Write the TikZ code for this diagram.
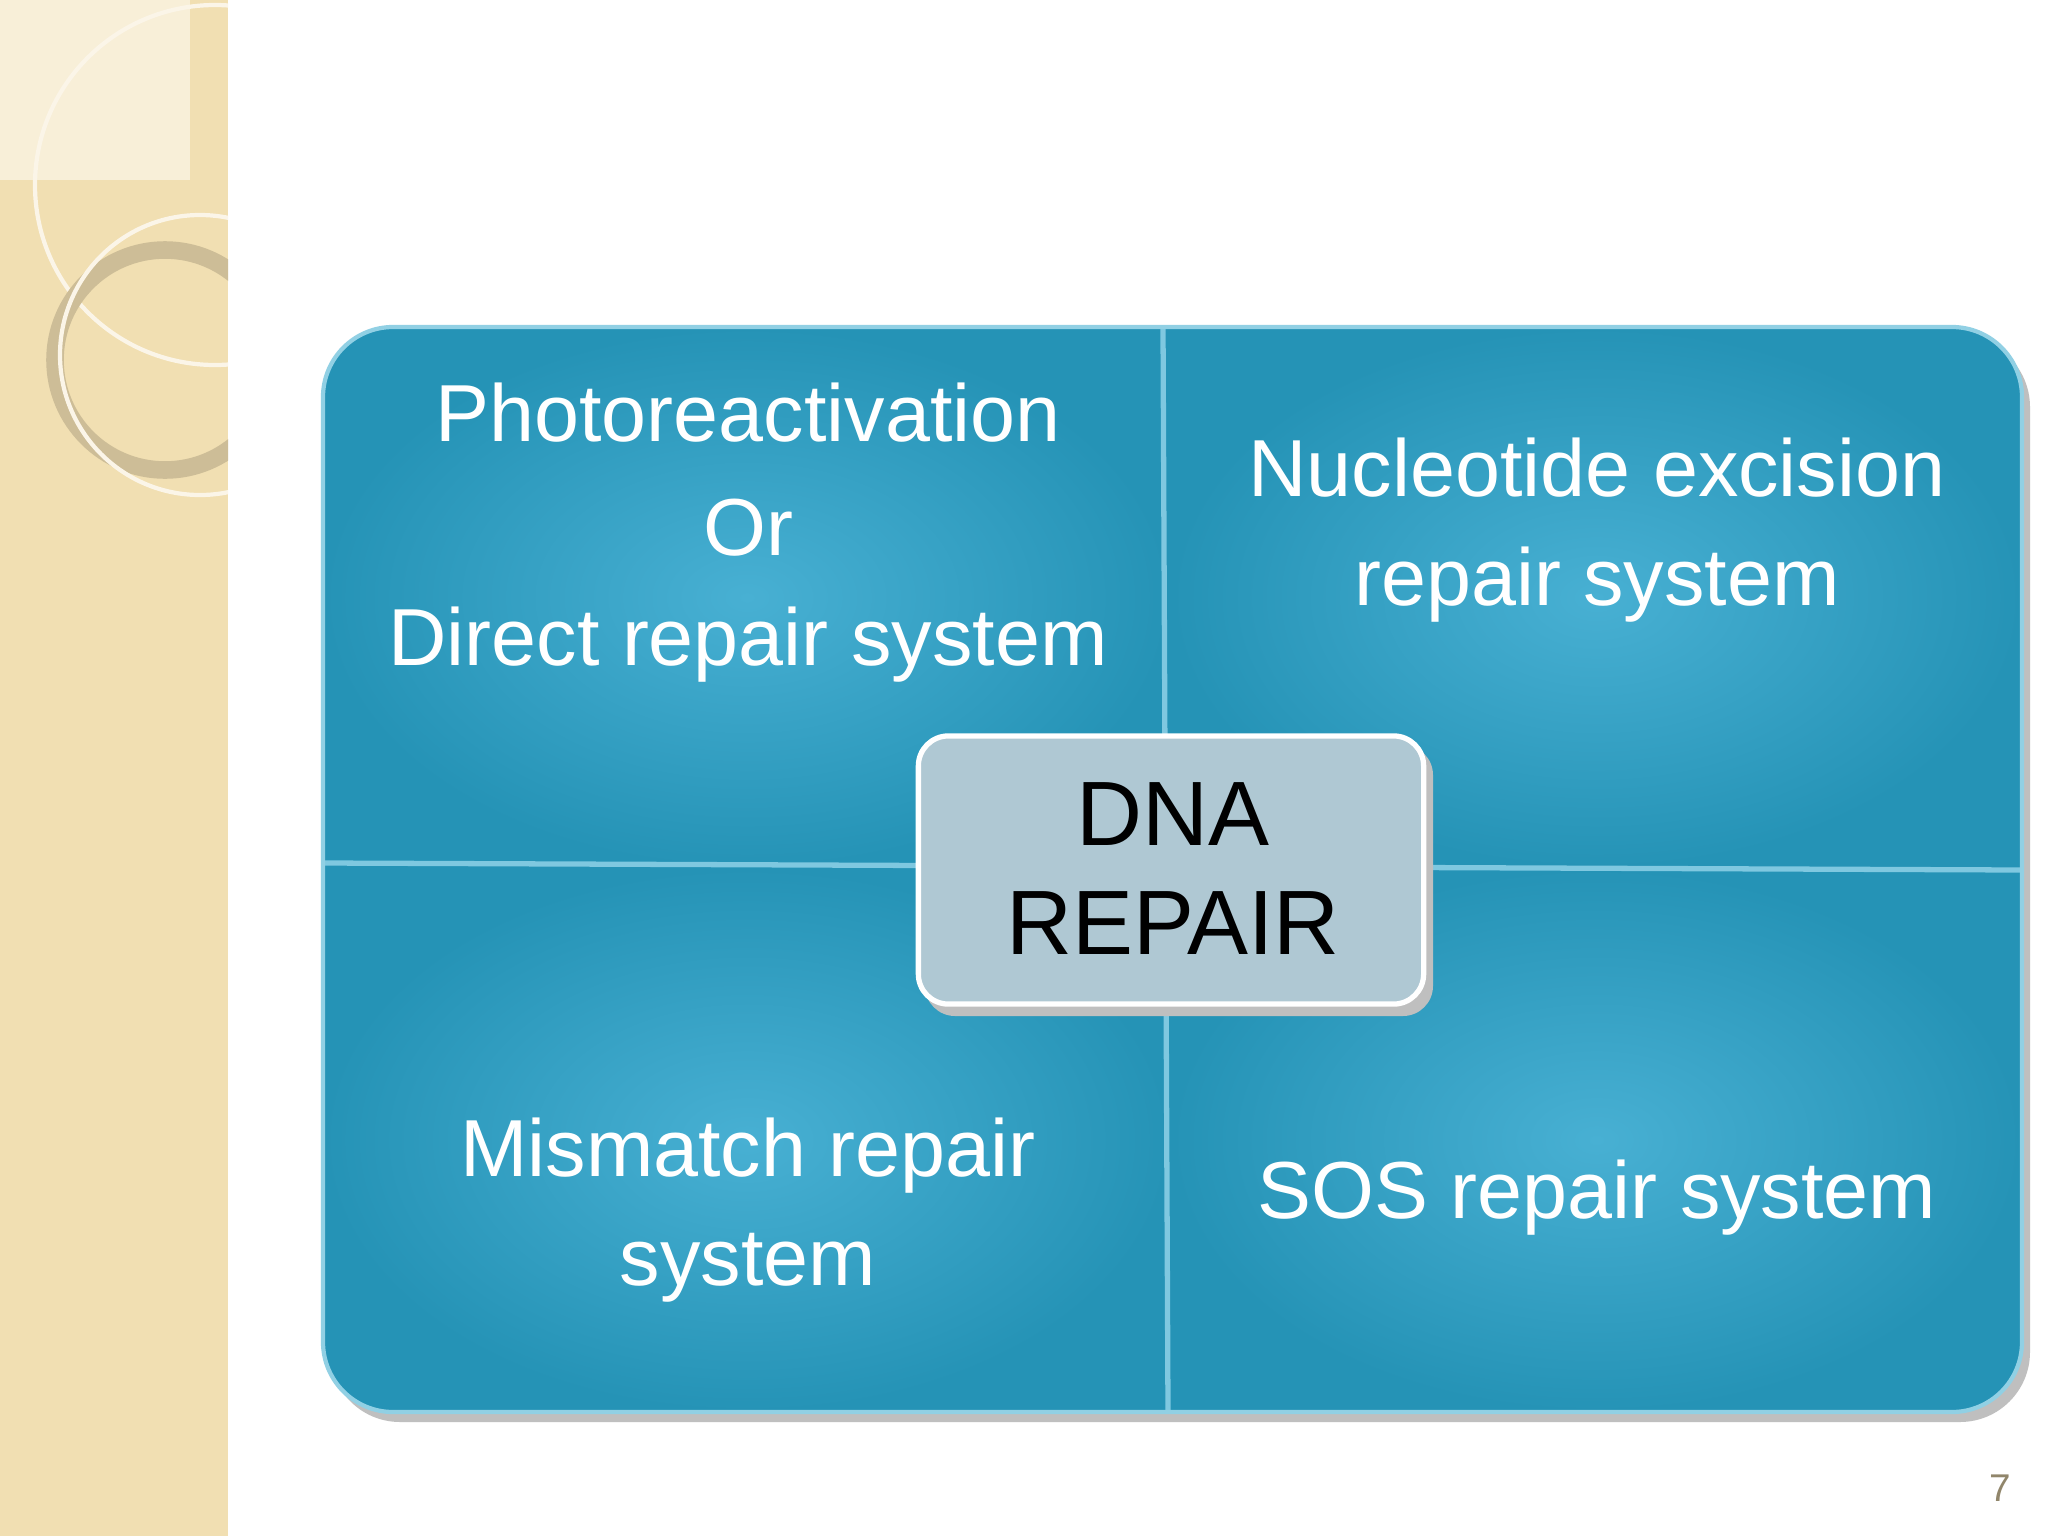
\documentclass[tikz,border=0pt]{standalone}
\usepackage{fontspec}
\setmainfont{Liberation Sans}
\begin{document}
\begin{tikzpicture}[x=0.01cm,y=-0.01cm,
  lbl/.style={text=white,font=\fontsize{23}{28}\selectfont,align=center}]
\definecolor{quadout}{HTML}{2593B6}
\definecolor{quadin}{HTML}{48B0D3}
\definecolor{beige}{HTML}{F1DFB2}
\definecolor{ctr}{HTML}{AFC8D3}
\useasboundingbox (0,0) rectangle (2048,1536);
\fill[white] (0,0) rectangle (2048,1536);
% beige strip
\fill[beige] (0,0) rectangle (228,1536);
\begin{scope}
\clip (0,0) rectangle (228,1536);
\fill[beige!50!white] (0,0) rectangle (190,180);
\draw[white!70!beige,line width=1.2pt] (215,185) circle (180);
\draw[beige!85!black,line width=5pt] (165,360) circle (110);
\draw[white!70!beige,line width=1.2pt] (200,355) circle (140);
\end{scope}
% main box
\fill[black!25,rounded corners=0.7cm] (330,337) rectangle (2030,1422);
\begin{scope}
\clip[rounded corners=0.7cm] (323,327) rectangle (2022,1412);
\shade[inner color=quadin,outer color=quadout] (323,327) rectangle (1171,868);
\shade[inner color=quadin,outer color=quadout] (1171,327) rectangle (2022,868);
\shade[inner color=quadin,outer color=quadout] (323,868) rectangle (1171,1412);
\shade[inner color=quadin,outer color=quadout] (1171,868) rectangle (2022,1412);
\draw[quadin!70!white,line width=1.5pt] (1163,327) -- (1168,1412);
\draw[quadin!70!white,line width=1.5pt] (323,863) -- (2022,870);
\end{scope}
\draw[quadin!60!white,line width=1.2pt,rounded corners=0.7cm] (323,327) rectangle (2022,1412);
% center
\fill[black!25,rounded corners=0.3cm] (925,745) rectangle (1433,1016);
\node[draw=white,line width=1.5pt,fill=ctr,rounded corners=0.3cm,minimum width=5.05cm,minimum height=2.68cm,inner sep=0] (c) at (1171,870) {};
\node[font=\fontsize{26}{31}\selectfont,align=center] (ct) at (1173,869) {DNA\\REPAIR};
\node[lbl] (q1) at (748,413) {Photoreactivation};
\node[lbl] (q1b) at (748,528) {Or};
\node[lbl] (q1c) at (748,645) {Direct repair system};
\node[lbl,font=\fontsize{23}{31}\selectfont] (q2) at (1597,530) {Nucleotide excision\\repair system};
\node[lbl,font=\fontsize{23}{31}\selectfont] (q3) at (748,1210) {Mismatch repair\\system};
\node[lbl] (q4) at (1597,1198) {SOS repair system};
\node[text=beige!60!black,font=\fontsize{11}{13}\selectfont] (pg) at (2000,1488) {7};
\end{tikzpicture}
\end{document}
